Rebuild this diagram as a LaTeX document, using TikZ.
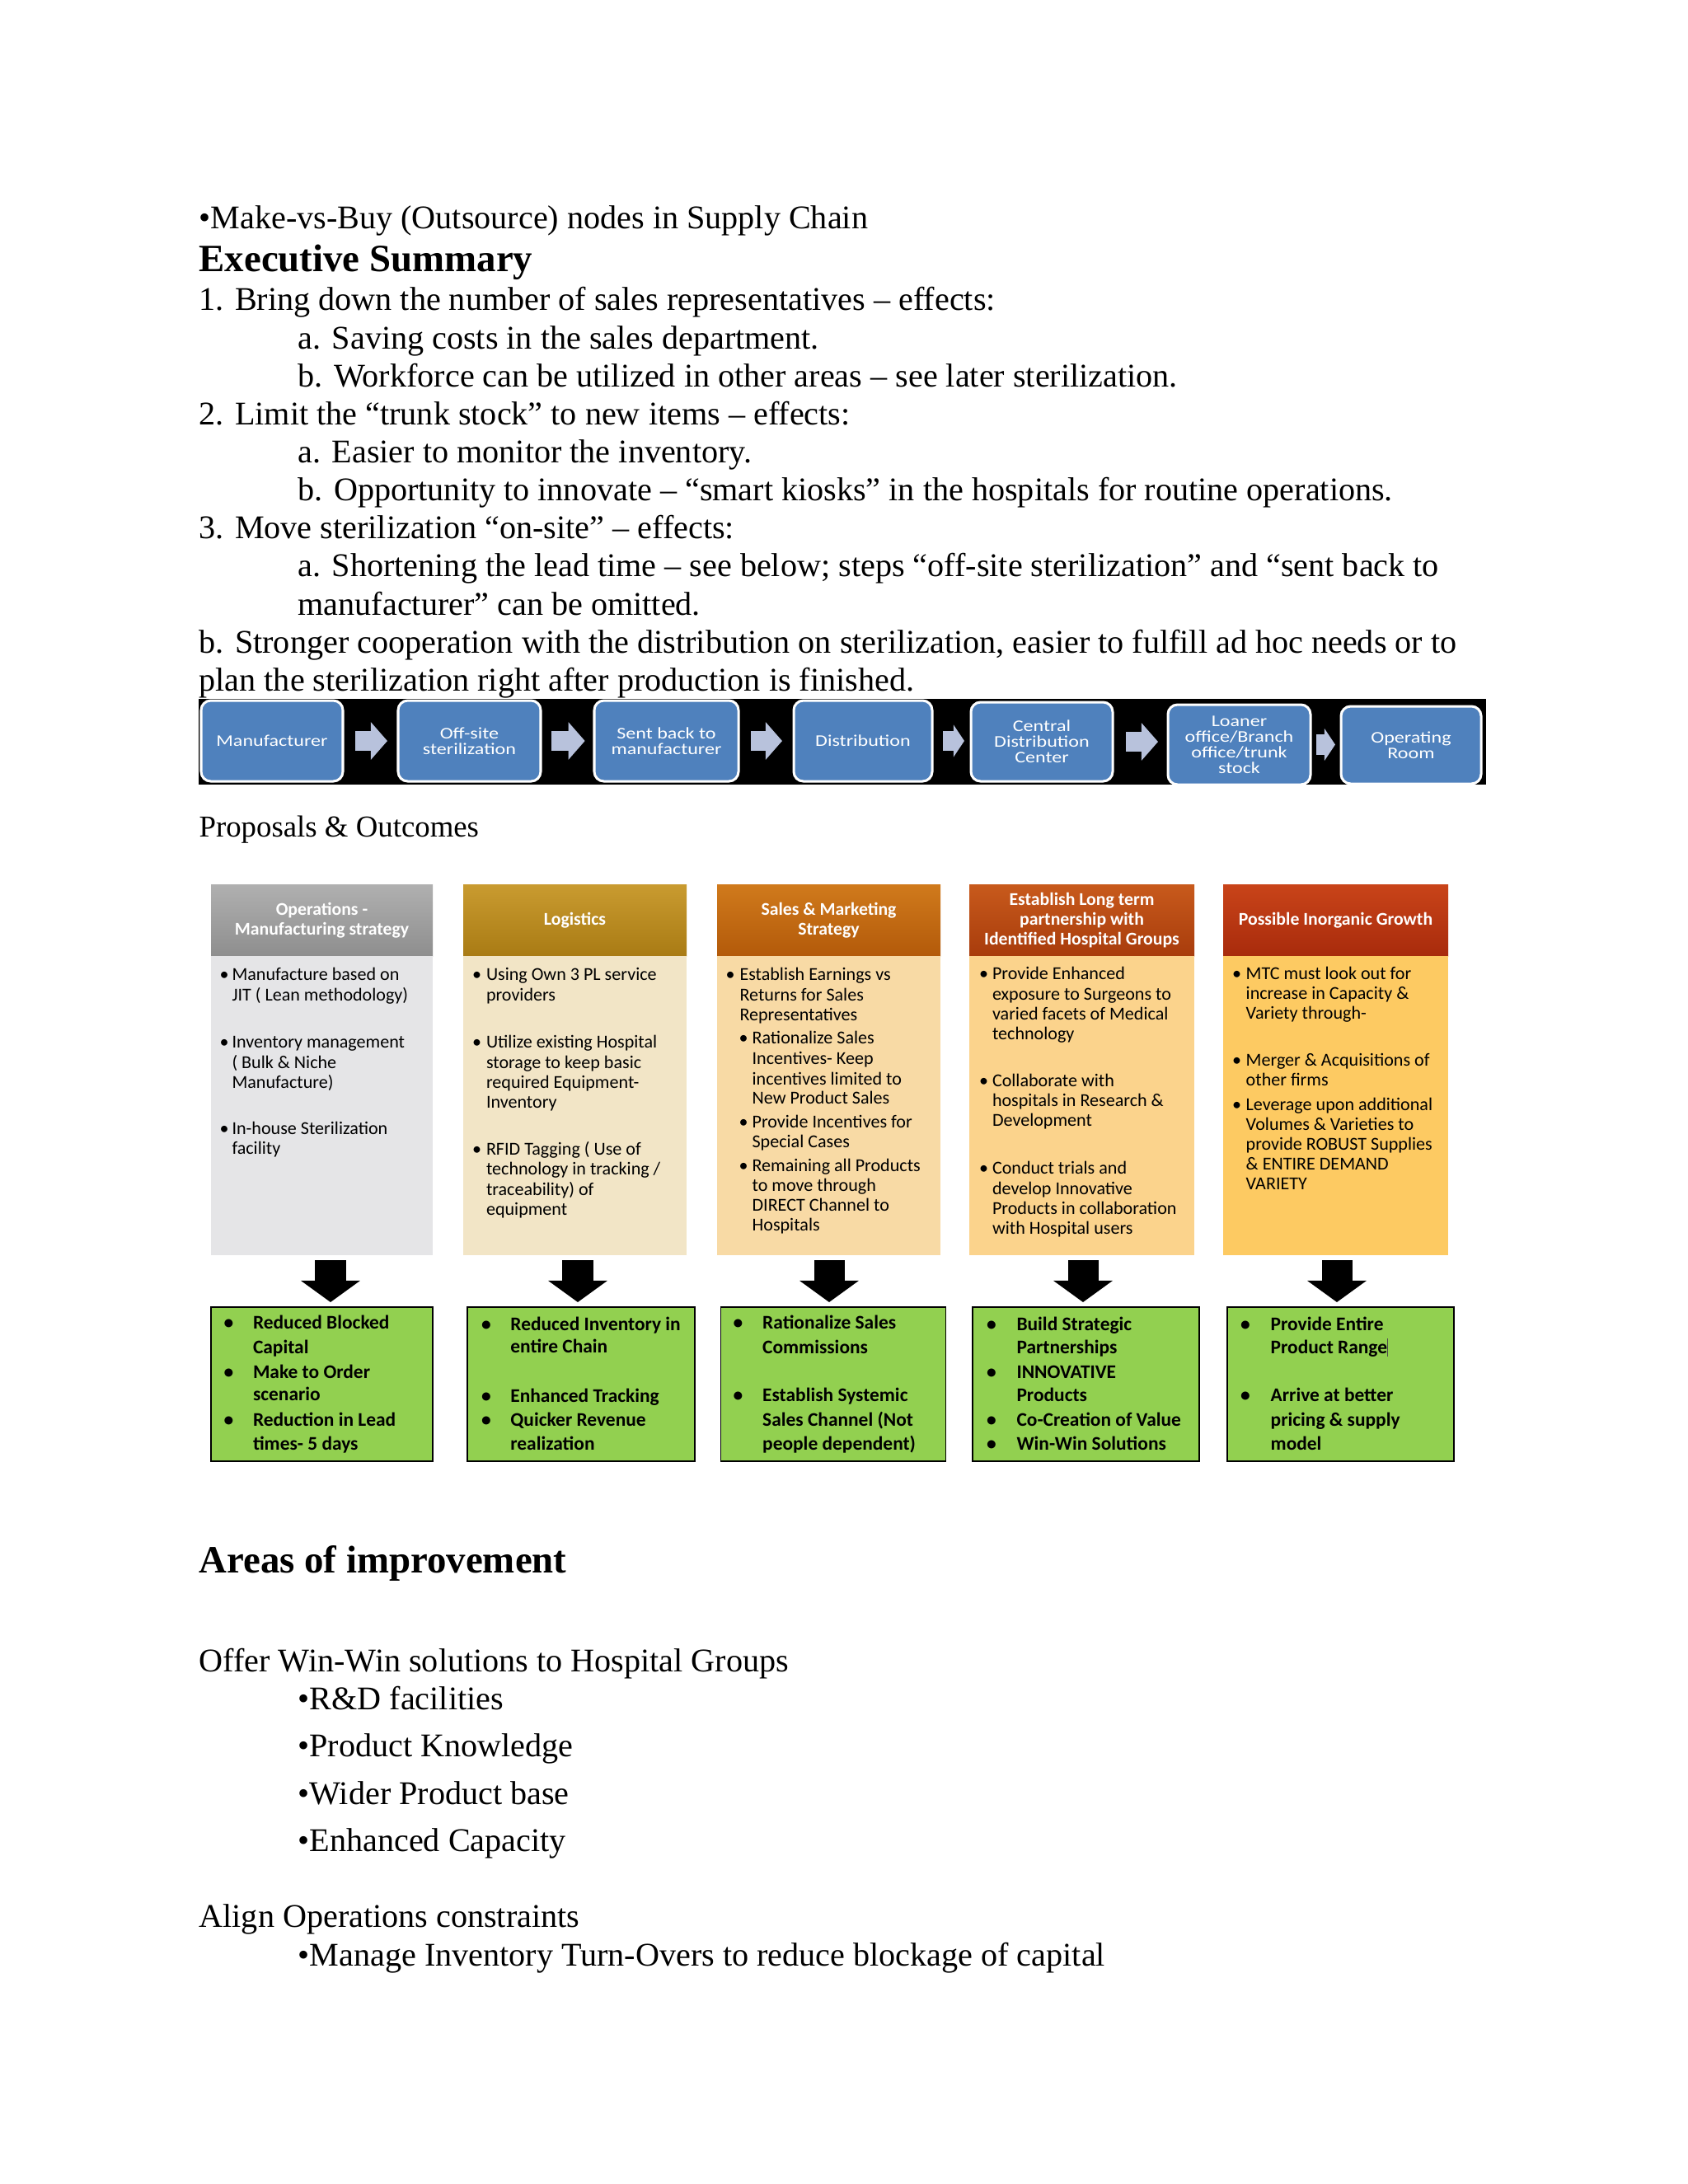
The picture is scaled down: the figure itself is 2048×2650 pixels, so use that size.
\documentclass[tikz,border=0pt]{standalone}
\usepackage{fontspec}
\setmainfont{Liberation Serif}
\newfontfamily\calfont{Carlito}
\newfontfamily\barfont[FakeStretch=1.22]{Carlito}
\usetikzlibrary{arrows.meta,calc}
\definecolor{barblue}{HTML}{4F81BD}
\definecolor{barArr}{HTML}{B8C2DC}
\definecolor{hAt}{HTML}{B0B0B0}\definecolor{hAb}{HTML}{8E8E8E}\definecolor{bdA}{HTML}{E5E5E7}
\definecolor{hBt}{HTML}{C99B30}\definecolor{hBb}{HTML}{A97B14}\definecolor{bdB}{HTML}{F2E5C6}
\definecolor{hCt}{HTML}{D07A1C}\definecolor{hCb}{HTML}{B35A0A}\definecolor{bdC}{HTML}{F8DAA5}
\definecolor{hDt}{HTML}{C85A1C}\definecolor{hDb}{HTML}{A83C0C}\definecolor{bdD}{HTML}{FBD38C}
\definecolor{hEt}{HTML}{C94419}\definecolor{hEb}{HTML}{A82B0C}\definecolor{bdE}{HTML}{FDCA62}
\definecolor{resgreen}{HTML}{92D050}
\newcommand{\PX}{0.29883pt}
\newcounter{tn}
\newcommand{\Tx}[4][serif]{\stepcounter{tn}\node[#1] (t\arabic{tn}) at (#2,#3) {#4};}
\newcommand{\Bu}[5][body]{\stepcounter{tn}\node[#1] (t\arabic{tn}) at (#2-3,#4) {•};\stepcounter{tn}\node[#1] (t\arabic{tn}) at (#3,#4) {#5};}
\begin{document}
\begin{tikzpicture}[x=0.29883pt,y=-0.29883pt,
  txt/.style={anchor=base west, inner sep=0pt, outer sep=0pt},
  serif/.style={txt, font=\fontsize{12}{13.8}\selectfont},
  serifs/.style={txt, font=\fontsize{11}{13}\selectfont},
  bighead/.style={txt, font=\fontsize{14}{16}\selectfont\bfseries},
  body/.style={txt, font=\calfont\fontsize{6.6}{7.4}\selectfont},
  res/.style={txt, font=\calfont\bfseries\fontsize{7}{8.7}\selectfont},
  barbox/.style={rectangle, rounded corners=3.5pt, fill=barblue, draw=white, line width=0.9pt,
    text=white, font=\barfont\fontsize{5.9}{5.7}\selectfont, align=center, inner sep=0pt, outer sep=0pt},
  barA/.style={draw=barArr, line width=7.35pt, -{Triangle[width=13.7pt,length=6pt,line width=0pt]}},
  barAs/.style={draw=barArr, line width=7.35pt, -{Triangle[width=11.7pt,length=3.9pt,line width=0pt]}},
  colhead/.style={rectangle, inner sep=0pt, outer sep=0pt, text=white, align=center,
    font=\calfont\bfseries\fontsize{6.5}{7.3}\selectfont, minimum height=87*\PX},
  colbody/.style={rectangle, inner sep=0pt, outer sep=0pt, minimum height=363*\PX},
  resbox/.style={rectangle, fill=resgreen, draw=black, line width=0.5pt, inner sep=0pt, outer sep=0pt, minimum height=187*\PX},
  downA/.style={draw=black, line width=11.06pt, -{Triangle[width=21.5pt,length=7.8pt,line width=0pt]}}
]
\useasboundingbox (0,0) rectangle (2048,2650);
\fill[white] (0,0) rectangle (2048,2650);

% ---------- top text ----------
\Tx{241.6}{277}{•Make-vs-Buy (Outsource) nodes in Supply Chain}
\Tx[bighead]{241.6}{329.5}{Executive Summary}
\Tx{241.6}{376.8}{1. Bring down the number of sales representatives – effects:}
\Tx{361.6}{423}{a. Saving costs in the sales department.}
\Tx{361.6}{469.2}{b. Workforce can be utilized in other areas – see later sterilization.}
\Tx{241.6}{515.4}{2. Limit the “trunk stock” to new items – effects:}
\Tx{361.6}{561.4}{a. Easier to monitor the inventory.}
\Tx{361.6}{607.4}{b. Opportunity to innovate – “smart kiosks” in the hospitals for routine operations.}
\Tx{241.6}{653.6}{3. Move sterilization “on-site” – effects:}
\Tx{361.6}{699.8}{a. Shortening the lead time – see below; steps “off-site sterilization” and “sent back to}
\Tx{361.6}{746}{manufacturer” can be omitted.}
\Tx{241.6}{792.2}{b. Stronger cooperation with the distribution on sterilization, easier to fulfill ad hoc needs or to}
\Tx{241.6}{838.2}{plan the sterilization right after production is finished.}

% ---------- process bar ----------
\node[fill=black, inner sep=0pt, outer sep=0pt, minimum width=1562*\PX, minimum height=104*\PX] (bar) at (1022,900) {};
\node[barbox, minimum width=172*\PX, minimum height=98*\PX] (p1) at (330,899) {Manufacturer};
\node[barbox, minimum width=173*\PX, minimum height=98*\PX] (p2) at (569.5,899) {Off-site\\sterilization};
\node[barbox, minimum width=175*\PX, minimum height=98*\PX] (p3) at (808.5,899) {Sent back to\\manufacturer};
\node[barbox, minimum width=168*\PX, minimum height=98*\PX] (p4) at (1047,899) {Distribution};
\node[barbox, minimum width=172*\PX, minimum height=96*\PX] (p5) at (1264,900) {Central\\Distribution\\Center};
\node[barbox, minimum width=173*\PX, minimum height=97*\PX] (p6) at (1503.5,903.5) {Loaner\\office/Branch\\office/trunk\\stock};
\node[barbox, minimum width=170*\PX, minimum height=94*\PX] (p7) at (1712,904) {Operating\\Room};
\draw[barA, shorten <=4.6pt, shorten >=3.9pt] (p1.east) -- (p2.west);
\draw[barA, shorten <=3.9pt, shorten >=3.4pt] (p2.east) -- (p3.west);
\draw[barA, shorten <=4.5pt, shorten >=4.2pt] (p3.east) -- (p4.west);
\draw[barAs, shorten <=3.9pt, shorten >=2.4pt] (p4.east) -- (p4.east -| p5.west);
\draw[barA, shorten <=4.8pt, shorten >=3.6pt] (p5.east) -- (p5.east -| p6.west);
\draw[barAs, shorten <=2.1pt, shorten >=2.1pt] (p6.east) -- (p6.east -| p7.west);

\Tx[serifs]{241.6}{1015.6}{Proposals \& Outcomes}

% ---------- columns ----------
\node[colhead, top color=hAt, bottom color=hAb, minimum width=269*\PX] (h1) at (390.5,1116.5) {Operations -\\Manufacturing strategy};
\node[colhead, top color=hBt, bottom color=hBb, minimum width=271*\PX] (h2) at (697.5,1116.5) {Logistics};
\node[colhead, top color=hCt, bottom color=hCb, minimum width=271*\PX] (h3) at (1005.5,1116.5) {Sales \& Marketing\\Strategy};
\node[colhead, top color=hDt, bottom color=hDb, minimum width=273*\PX] (h4) at (1312.5,1116.5) {Establish Long term\\partnership with\\Identified Hospital Groups};
\node[colhead, top color=hEt, bottom color=hEb, minimum width=273*\PX] (h5) at (1620.5,1116.5) {Possible Inorganic Growth};
\node[colbody, fill=bdA, minimum width=269*\PX] (b1) at (390.5,1341.5) {};
\node[colbody, fill=bdB, minimum width=271*\PX] (b2) at (697.5,1341.5) {};
\node[colbody, fill=bdC, minimum width=271*\PX] (b3) at (1005.5,1341.5) {};
\node[colbody, fill=bdD, minimum width=273*\PX] (b4) at (1312.5,1341.5) {};
\node[colbody, fill=bdE, minimum width=273*\PX] (b5) at (1620.5,1341.5) {};

% column 1
\Bu{269.6}{281.5}{1189.3}{Manufacture based on}
\Tx[body]{281.5}{1214}{JIT ( Lean methodology)}
\Bu{269.6}{281.5}{1271.7}{Inventory management}
\Tx[body]{281.5}{1296}{( Bulk \& Niche}
\Tx[body]{281.5}{1320}{Manufacture)}
\Bu{269.6}{281.5}{1376.7}{In-house Sterilization}
\Tx[body]{281.5}{1400.7}{facility}
% column 2
\Bu{576}{590}{1189.3}{Using Own 3 PL service}
\Tx[body]{590}{1214}{providers}
\Bu{576}{590}{1271.7}{Utilize existing Hospital}
\Tx[body]{590}{1296}{storage to keep basic}
\Tx[body]{590}{1320}{required Equipment-}
\Tx[body]{590}{1344}{Inventory}
\Bu{576}{590}{1401.7}{RFID Tagging ( Use of}
\Tx[body]{590}{1425.7}{technology in tracking /}
\Tx[body]{590}{1450}{traceability) of}
\Tx[body]{590}{1474}{equipment}
% column 3
\Bu{883.7}{897.5}{1189.3}{Establish Earnings vs}
\Tx[body]{897.5}{1214}{Returns for Sales}
\Tx[body]{897.5}{1238.3}{Representatives}
\Bu{899.5}{912.6}{1266.7}{Rationalize Sales}
\Tx[body]{912.6}{1291.7}{Incentives- Keep}
\Tx[body]{912.6}{1316}{incentives limited to}
\Tx[body]{912.6}{1339.3}{New Product Sales}
\Bu{899.5}{912.6}{1368.3}{Provide Incentives for}
\Tx[body]{912.6}{1392.7}{Special Cases}
\Bu{899.5}{912.6}{1421}{Remaining all Products}
\Tx[body]{912.6}{1445}{to move through}
\Tx[body]{912.6}{1469.3}{DIRECT Channel to}
\Tx[body]{912.6}{1493.3}{Hospitals}
% column 4
\Bu{1191}{1204}{1188.3}{Provide Enhanced}
\Tx[body]{1204}{1213.3}{exposure to Surgeons to}
\Tx[body]{1204}{1237.3}{varied facets of Medical}
\Tx[body]{1204}{1261}{technology}
\Bu{1191}{1204}{1318.3}{Collaborate with}
\Tx[body]{1204}{1342.7}{hospitals in Research \&}
\Tx[body]{1204}{1366.7}{Development}
\Bu{1191}{1204}{1424.3}{Conduct trials and}
\Tx[body]{1204}{1449}{develop Innovative}
\Tx[body]{1204}{1473.3}{Products in collaboration}
\Tx[body]{1204}{1497.7}{with Hospital users}
% column 5
\Bu{1498}{1511.7}{1188.3}{MTC must look out for}
\Tx[body]{1511.7}{1212.7}{increase in Capacity \&}
\Tx[body]{1511.7}{1236.7}{Variety through-}
\Bu{1498}{1511.7}{1293.3}{Merger \& Acquisitions of}
\Tx[body]{1511.7}{1317.3}{other firms}
\Bu{1498}{1511.7}{1347.3}{Leverage upon additional}
\Tx[body]{1511.7}{1371.7}{Volumes \& Varieties to}
\Tx[body]{1511.7}{1395.7}{provide ROBUST Supplies}
\Tx[body]{1511.7}{1419}{\& ENTIRE DEMAND}
\Tx[body]{1511.7}{1443.3}{VARIETY}

% ---------- result boxes ----------
\node[resbox, minimum width=269*\PX] (g1) at (390.5,1679.5) {};
\node[resbox, minimum width=276*\PX] (g2) at (705,1679.5) {};
\node[resbox, minimum width=273*\PX] (g3) at (1011,1679.5) {};
\node[resbox, minimum width=275*\PX] (g4) at (1317.5,1679.5) {};
\node[resbox, minimum width=275*\PX] (g5) at (1626.5,1679.5) {};

\coordinate (x1) at (401,0);
\coordinate (x2) at (701,0);
\coordinate (x3) at (1006,0);
\coordinate (x4) at (1314,0);
\coordinate (x5) at (1622,0);
\draw[downA, shorten <=1.9pt, shorten >=1.8pt] (b1.south -| x1) -- (g1.north -| x1);
\draw[downA, shorten <=1.9pt, shorten >=1.8pt] (b2.south -| x2) -- (g2.north -| x2);
\draw[downA, shorten <=1.9pt, shorten >=1.8pt] (b3.south -| x3) -- (g3.north -| x3);
\draw[downA, shorten <=1.9pt, shorten >=1.8pt] (b4.south -| x4) -- (g4.north -| x4);
\draw[downA, shorten <=1.9pt, shorten >=1.8pt] (b5.south -| x5) -- (g5.north -| x5);

% box 1
\Bu[res]{274.6}{307}{1612.9}{Reduced Blocked}
\Tx[res]{307}{1642.3}{Capital}
\Bu[res]{274.6}{307}{1672}{Make to Order}
\Tx[res]{307}{1699.7}{scenario}
\Bu[res]{274.6}{307}{1730}{Reduction in Lead}
\Tx[res]{307}{1759.2}{times- 5 days}
% box 2
\Bu[res]{587}{619.4}{1614.6}{Reduced Inventory in}
\Tx[res]{619.4}{1641.6}{entire Chain}
\Bu[res]{587}{619.4}{1701.8}{Enhanced Tracking}
\Bu[res]{587}{619.4}{1730}{Quicker Revenue}
\Tx[res]{619.4}{1759.2}{realization}
% box 3
\Bu[res]{892.6}{925.2}{1612.9}{Rationalize Sales}
\Tx[res]{925.2}{1642.3}{Commissions}
\Bu[res]{892.6}{925.2}{1700.7}{Establish Systemic}
\Tx[res]{925.2}{1730}{Sales Channel (Not}
\Tx[res]{925.2}{1759.2}{people dependent)}
% box 4
\Bu[res]{1200}{1233.5}{1614}{Build Strategic}
\Tx[res]{1233.5}{1642.3}{Partnerships}
\Bu[res]{1200}{1233.5}{1672}{INNOVATIVE}
\Tx[res]{1233.5}{1700.7}{Products}
\Bu[res]{1200}{1233.5}{1730}{Co-Creation of Value}
\Bu[res]{1200}{1233.5}{1759.2}{Win-Win Solutions}
% box 5
\Bu[res]{1508}{1541.7}{1614}{Provide Entire}
\Tx[res]{1541.7}{1642.3}{Product Range{\color{black!70}\rule[-1pt]{0.25pt}{6.5pt}}}
\Bu[res]{1508}{1541.7}{1700.7}{Arrive at better}
\Tx[res]{1541.7}{1730}{pricing \& supply}
\Tx[res]{1541.7}{1759.2}{model}

% ---------- lower text ----------
\Tx[bighead]{241.6}{1908}{Areas of improvement}
\Tx{241.6}{2028.5}{Offer Win-Win solutions to Hospital Groups}
\Tx{361.6}{2074}{•R\&D facilities}
\Tx{361.6}{2131.5}{•Product Knowledge}
\Tx{361.6}{2189}{•Wider Product base}
\Tx{361.6}{2246}{•Enhanced Capacity}
\Tx{241.6}{2338.5}{Align Operations constraints}
\Tx{361.6}{2385.5}{•Manage Inventory Turn-Overs to reduce blockage of capital}
\end{tikzpicture}
\end{document}
